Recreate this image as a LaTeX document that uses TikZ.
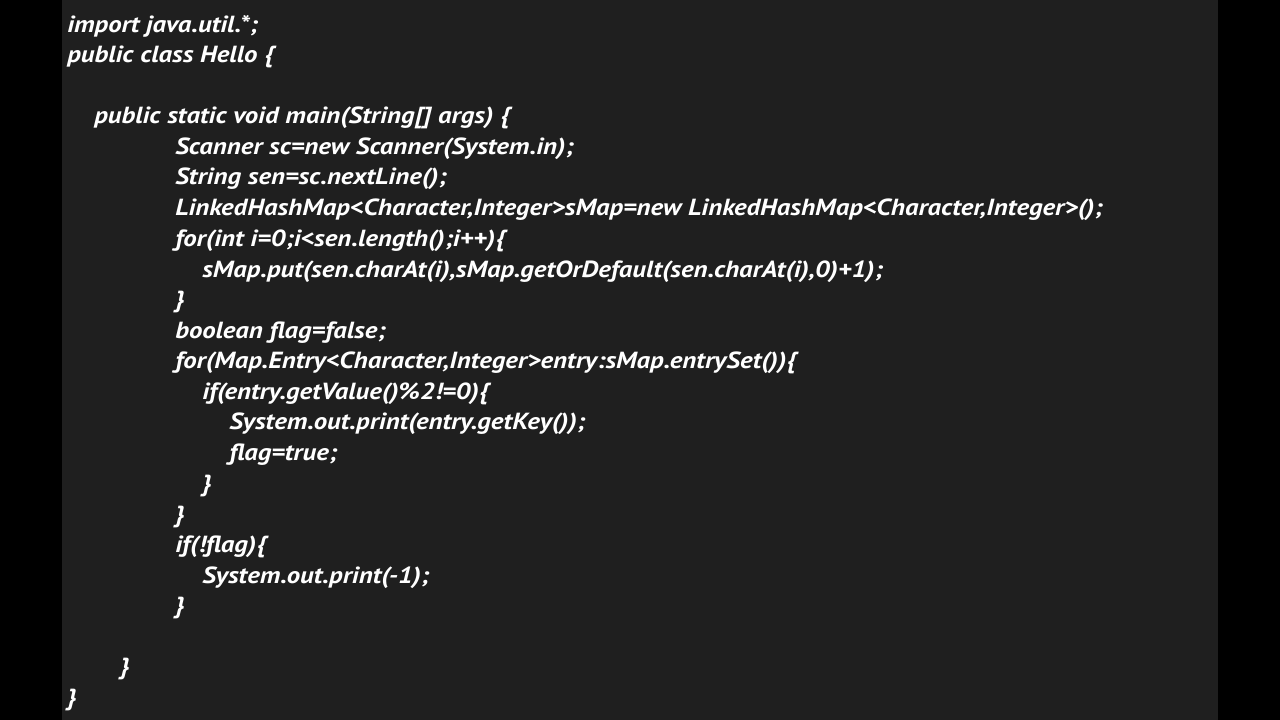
\documentclass[tikz,border=0pt]{standalone}
\usepackage{fontspec}
\setmainfont{PT Sans}
\newfontfamily\codefont[FakeStretch=1.15]{PT Sans}
\begin{document}
\begin{tikzpicture}[x=0.75pt,y=-0.75pt,
  code/.style={anchor=base west,inner sep=0pt,text=white,font=\codefont\fontsize{17.5}{20}\selectfont\bfseries\itshape}]
\fill[black] (0,0) rectangle (1280,720);
\fill[black!88] (62,0) rectangle (1218,720);
\useasboundingbox (0,0) rectangle (1280,720);
\node[code] (l1) at (67,33) {import java.util.*;};
\node[code] (l2) at (67,63) {public class Hello \{};
\node[code] (l3) at (94,124) {public static void main(String[] args) \{};
\node[code] (l4) at (175,155) {Scanner sc=new Scanner(System.in);};
\node[code] (l5) at (175,185) {String sen=sc.nextLine();};
\node[code] (l6) at (175,216) {LinkedHashMap<Character,Integer>sMap=new LinkedHashMap<Character,Integer>();};
\node[code] (l7) at (175,247) {for(int i=0;i<sen.length();i++)\{};
\node[code] (l8) at (202,277) {sMap.put(sen.charAt(i),sMap.getOrDefault(sen.charAt(i),0)+1);};
\node[code] (l9) at (175,307) {\}};
\node[code] (l10) at (175,338) {boolean flag=false;};
\node[code] (l11) at (175,368) {for(Map.Entry<Character,Integer>entry:sMap.entrySet())\{};
\node[code] (l12) at (202,399) {if(entry.getValue()\%2!=0)\{};
\node[code] (l13) at (229,429) {System.out.print(entry.getKey());};
\node[code] (l14) at (229,460) {flag=true;};
\node[code] (l15) at (202,491) {\}};
\node[code] (l16) at (175,522) {\}};
\node[code] (l17) at (175,552) {if(!flag)\{};
\node[code] (l18) at (202,583) {System.out.print(-1);};
\node[code] (l19) at (175,613) {\}};
\node[code] (l20) at (120,674) {\}};
\node[code] (l21) at (67,705) {\}};
\end{tikzpicture}
\end{document}
